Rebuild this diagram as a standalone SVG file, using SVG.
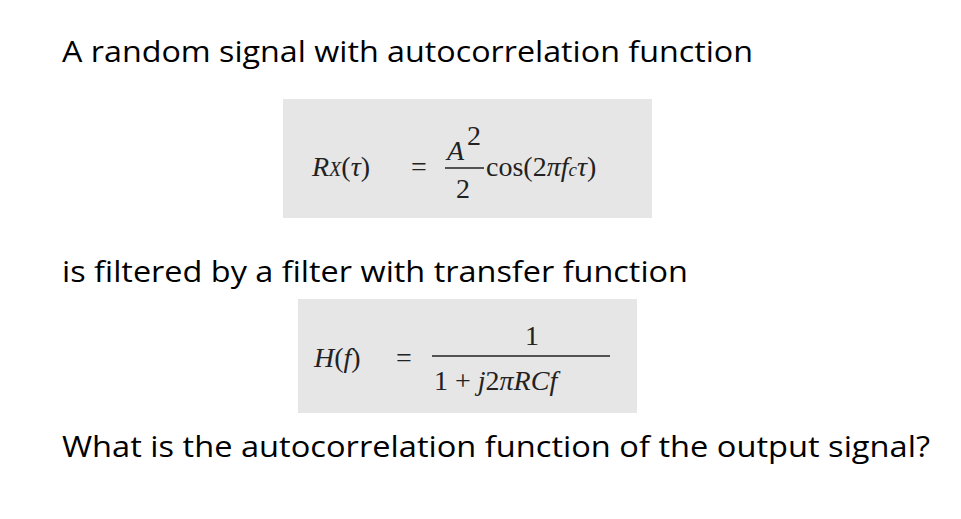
<svg xmlns="http://www.w3.org/2000/svg" width="961" height="519" viewBox="0 0 961 519">
<style>
.t{font-family:"Open Sans","Liberation Sans",sans-serif;font-size:29px;fill:#000}
.m{font-family:"Liberation Serif",serif;font-size:28px;fill:#222}
.i{font-style:italic}
.box{fill:#e6e6e6}
</style>
<rect width="961" height="519" fill="#fff"/>
<text class="t" x="62" y="62" textLength="691" lengthAdjust="spacingAndGlyphs">A random signal with autocorrelation function</text>
<g id="eq1">
<rect class="box" x="283" y="99" width="369" height="119"/>
<text class="m" x="312" y="176"><tspan class="i">R</tspan><tspan class="i" font-size="20">X</tspan>(<tspan class="i">τ</tspan>)</text>
<text class="m" x="411" y="176">=</text>
<text class="m i" x="447" y="160">A</text><text class="m" x="467" y="145" font-size="19">2</text>
<line x1="445" y1="168" x2="484" y2="168" stroke="#222" stroke-width="1.3"/>
<text class="m" x="456" y="198">2</text>
<text class="m" x="486" y="176">cos(2<tspan class="i">πf</tspan><tspan class="i" font-size="19">c</tspan><tspan class="i">τ</tspan>)</text>
</g>
<text class="t" x="62" y="282" textLength="626" lengthAdjust="spacingAndGlyphs">is filtered by a filter with transfer function</text>
<g id="eq2">
<rect class="box" x="298" y="299" width="339" height="114"/>
<text class="m" x="314" y="367"><tspan class="i">H</tspan>(<tspan class="i">f</tspan>)</text>
<text class="m" x="396" y="367">=</text>
<text class="m" x="532" y="345" text-anchor="middle">1</text>
<line x1="432" y1="356" x2="610" y2="356" stroke="#222" stroke-width="1.3"/>
<text class="m" x="434" y="390">1 + <tspan class="i">j</tspan>2<tspan class="i">πRCf</tspan></text>
</g>
<text class="t" x="62" y="457" textLength="868" lengthAdjust="spacingAndGlyphs">What is the autocorrelation function of the output signal?</text>
</svg>
